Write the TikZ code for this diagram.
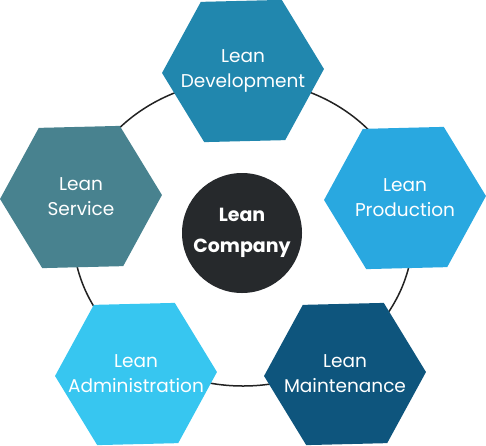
\documentclass[tikz,border=0pt]{standalone}
\usepackage{fontspec}
\setmainfont{Poppins}
\usetikzlibrary{shapes.geometric}
\definecolor{devblue}{HTML}{2187AE}
\definecolor{prodblue}{HTML}{29A8E0}
\definecolor{maintblue}{HTML}{0E557D}
\definecolor{adminblue}{HTML}{37C6F0}
\definecolor{servteal}{HTML}{48828F}
\definecolor{coredark}{HTML}{26292C}
\definecolor{ringgray}{HTML}{222222}
\begin{document}
\begin{tikzpicture}[x=1pt,y=-1pt,
	hexa/.style={regular polygon,regular polygon sides=6,minimum size=162pt,inner sep=0pt,shape border rotate=1.4},
	hexlabel/.style={text=white,font=\fontsize{18.5}{25}\selectfont,align=center,inner sep=0pt},
	core/.style={circle,fill=coredark,minimum size=120pt,inner sep=0pt,text=white,font=\bfseries\fontsize{19}{31}\selectfont,align=center}]
	\useasboundingbox(0,0)rectangle(486,445);
	\draw[ringgray,line width=1.5pt](243,233)ellipse[x radius=170pt,y radius=153pt];
	\node[hexa,fill=devblue,label={[hexlabel]center:Lean\\Development}](dev)at(243,71){};
	\node[hexa,fill=servteal,label={[hexlabel]center:Lean\\Service}](serv)at(81,197){};
	\node[hexa,fill=prodblue,label={[hexlabel]center:Lean\\Production}](prod)at(405,198){};
	\node[hexa,fill=adminblue,label={[hexlabel]center:Lean\\Administration}](admin)at(136,374){};
	\node[hexa,fill=maintblue,label={[hexlabel]center:Lean\\Maintenance}](maint)at(345,374){};
	\node[core](company)at(242,233){Lean\\Company};
\end{tikzpicture}
\end{document}
